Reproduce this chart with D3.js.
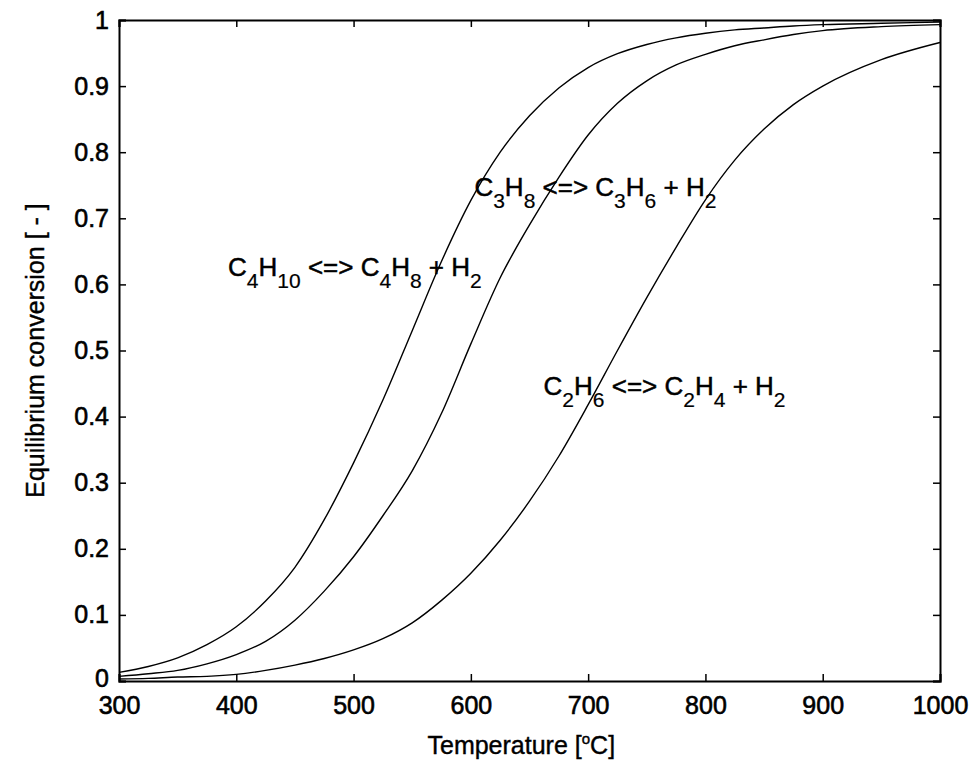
<!DOCTYPE html>
<html>
<head>
<meta charset="utf-8">
<script src="https://cdn.jsdelivr.net/npm/d3@7"></script>
<style>
  body { margin: 0; background: #fff; }
  text { font-family: "Liberation Sans", Arial, sans-serif; fill: #000; }
</style>
</head>
<body>
<script>
const width = 977;
const height = 765;

// temperatures (deg C)
const temps = [300, 325, 350, 375, 400, 425, 450, 475, 500, 525, 550, 575, 600, 625, 650, 675, 700, 725, 750, 775, 800, 825, 850, 875, 900, 950, 1000];

// equilibrium conversion
const butane  = [0.013, 0.022, 0.035, 0.055, 0.082, 0.121, 0.172, 0.244, 0.330, 0.425, 0.530, 0.635, 0.727, 0.800, 0.855, 0.897, 0.928, 0.949, 0.963, 0.973, 0.980, 0.985, 0.988, 0.991, 0.993, 0.995, 0.997];
const propane = [0.007, 0.011, 0.016, 0.026, 0.040, 0.060, 0.092, 0.136, 0.188, 0.250, 0.318, 0.405, 0.510, 0.610, 0.690, 0.762, 0.826, 0.874, 0.908, 0.932, 0.948, 0.961, 0.970, 0.978, 0.984, 0.990, 0.993];
const ethane  = [0.003, 0.004, 0.006, 0.007, 0.010, 0.016, 0.024, 0.034, 0.047, 0.064, 0.088, 0.122, 0.163, 0.213, 0.272, 0.340, 0.418, 0.500, 0.580, 0.656, 0.728, 0.788, 0.835, 0.872, 0.900, 0.940, 0.966];

const xTicks = [300, 400, 500, 600, 700, 800, 900, 1000];
const yTicks = [0, 0.1, 0.2, 0.3, 0.4, 0.5, 0.6, 0.7, 0.8, 0.9, 1];

// reaction labels: [text, isSubscript] pieces, anchored at a temperature / conversion
const labels = [
  { x: 393, y: 0.612, parts: [["C"], ["4", 1], ["H"], ["10", 1], [" <=> C"], ["4", 1], ["H"], ["8", 1], [" + H"], ["2", 1]] },
  { x: 603, y: 0.733, parts: [["C"], ["3", 1], ["H"], ["8", 1], [" <=> C"], ["3", 1], ["H"], ["6", 1], [" + H"], ["2", 1]] },
  { x: 662, y: 0.432, parts: [["C"], ["2", 1], ["H"], ["6", 1], [" <=> C"], ["2", 1], ["H"], ["4", 1], [" + H"], ["2", 1]] }
];

const margin = { left: 119, right: 37, top: 20, bottom: 84 };

const svg = d3.select('body').append('svg')
    .attr('width', width)
    .attr('height', height);

const x = d3.scaleLinear().domain([300, 1000]).range([margin.left, width - margin.right]);
const y = d3.scaleLinear().domain([0, 1]).range([height - margin.bottom, margin.top]);

const fmt = d => d === 0 || d === 1 ? String(d) : d3.format('.1f')(d);

// axes, ticks inward on all four sides
const tickLen = 7;
svg.append('g')
    .attr('transform', `translate(0,${y(0)})`)
    .call(d3.axisBottom(x).tickValues(xTicks).tickSize(-tickLen).tickPadding(15).tickFormat(d3.format('d')));
svg.append('g')
    .attr('transform', `translate(0,${y(1)})`)
    .call(d3.axisTop(x).tickValues(xTicks).tickSize(-tickLen).tickFormat(''));
svg.append('g')
    .attr('transform', `translate(${x(300)},0)`)
    .call(d3.axisLeft(y).tickValues(yTicks).tickSize(-tickLen).tickPadding(10).tickFormat(fmt))
    .call(g => g.selectAll('.tick').filter(d => d === 0).select('text').attr('y', -3));
svg.append('g')
    .attr('transform', `translate(${x(1000)},0)`)
    .call(d3.axisRight(y).tickValues(yTicks).tickSize(-tickLen).tickFormat(''));

svg.selectAll('.domain').attr('stroke', '#000').attr('stroke-width', 2);
svg.selectAll('.tick line').attr('stroke', '#000').attr('stroke-width', 1.5);
svg.selectAll('.tick text')
    .attr('fill', '#000')
    .attr('font-size', 25)
    .attr('stroke', '#000')
    .attr('stroke-width', 0.6)
    .style('font-family', '"Liberation Sans", Arial, sans-serif');

// curves
const line = d3.line()
    .x((d, i) => x(temps[i]))
    .y(d => y(d))
    .curve(d3.curveMonotoneX);

[butane, propane, ethane].forEach(series => {
  svg.append('path')
      .datum(series)
      .attr('d', line)
      .attr('fill', 'none')
      .attr('stroke', '#000')
      .attr('stroke-width', 1.4);
});

// reaction labels
const subShift = 12;
labels.forEach(l => {
  const t = svg.append('text')
      .attr('x', x(l.x))
      .attr('y', y(l.y))
      .attr('font-size', 26)
      .attr('stroke', '#000')
      .attr('stroke-width', 0.5);
  let prevSub = false;
  l.parts.forEach(p => {
    const sub = p[1] === 1;
    let dy = 0;
    if (sub && !prevSub) dy = subShift;
    if (!sub && prevSub) dy = -subShift;
    t.append('tspan')
        .attr('font-size', sub ? 21 : 26)
        .attr('stroke-width', sub ? 0.2 : 0.5)
        .attr('dy', dy)
        .text(p[0]);
    prevSub = sub;
  });
});

// axis titles
const xt = svg.append('text')
    .attr('x', x(643))
    .attr('y', 754)
    .attr('text-anchor', 'middle')
    .attr('font-size', 25)
    .attr('stroke', '#000')
    .attr('stroke-width', 0.4);
xt.append('tspan').text('Temperature [');
xt.append('tspan').attr('font-size', 15).attr('dy', -10).text('o');
xt.append('tspan').attr('dy', 10).text('C]');

svg.append('text')
    .attr('transform', `translate(44,${y(0.5)}) rotate(-90)`)
    .attr('text-anchor', 'middle')
    .attr('font-size', 25)
    .attr('stroke', '#000')
    .attr('stroke-width', 0.4)
    .text('Equilibrium conversion [ - ]');
</script>
</body>
</html>
